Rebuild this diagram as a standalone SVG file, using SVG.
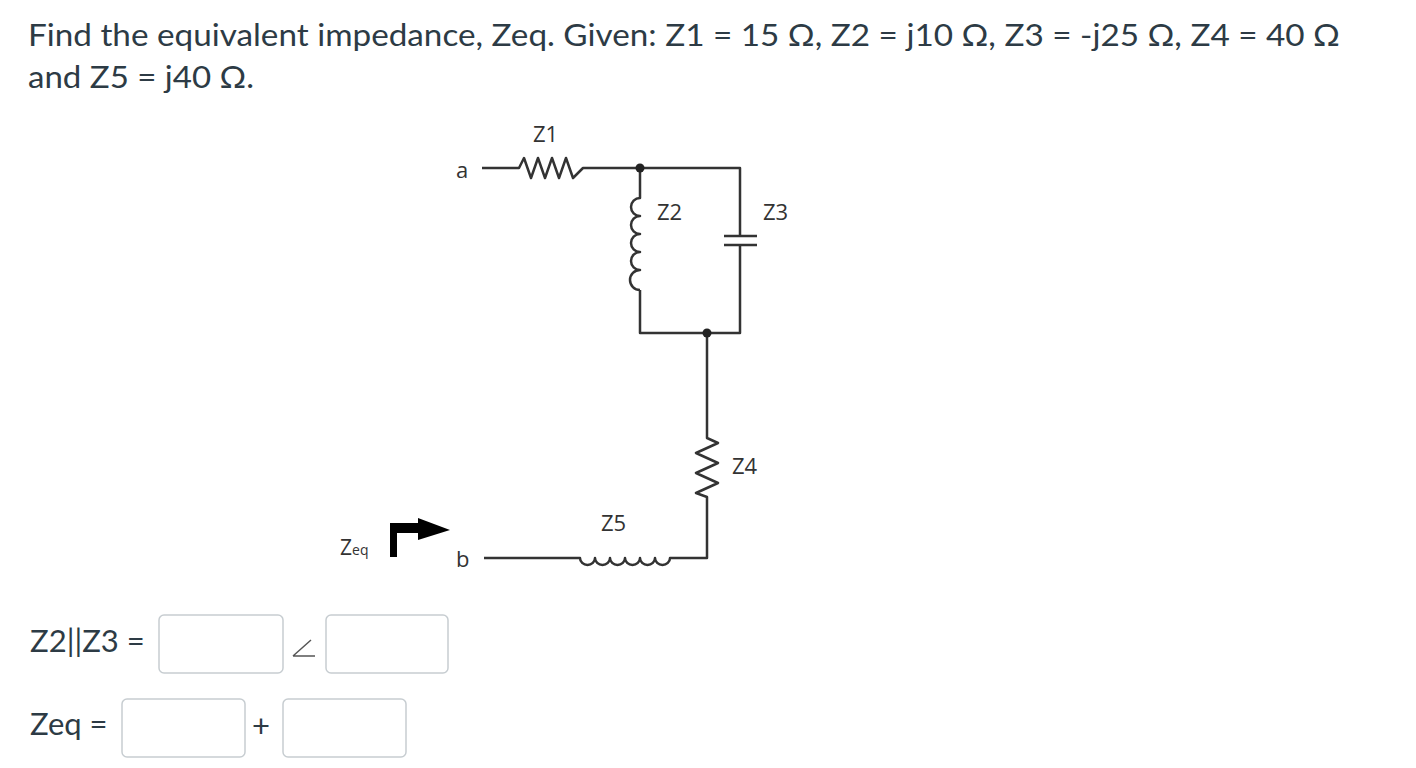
<svg xmlns="http://www.w3.org/2000/svg" width="1416" height="768" viewBox="0 0 1416 768">
<style>
.t{font-family:Lato,"Noto Sans",sans-serif;font-size:31px;fill:#2d3b45}
.l{font-family:"Open Sans","DejaVu Sans",sans-serif;font-size:22px;fill:#333}
.w{fill:none;stroke:#333;stroke-width:2.5;stroke-linejoin:round}
.b{fill:#fff;stroke:#c7cdd1;stroke-width:1.5}
</style>
<rect width="1416" height="768" fill="#fff"/>
<text class="t" x="28" y="46" textLength="1312" lengthAdjust="spacingAndGlyphs">Find the equivalent impedance, Zeq.  Given:  Z1 = 15 Ω, Z2 = j10 Ω, Z3 = -j25 Ω, Z4 = 40 Ω</text>
<text class="t" x="28" y="88" textLength="226" lengthAdjust="spacingAndGlyphs">and Z5 = j40 Ω.</text>
<g id="connectors">
<path class="w" d="M482,168 H519 L524,158 L531,178 L538,158 L545,178 L552,158 L559,178 L566,158 L573,178 L583,168 H740 V236"/>
<path class="w" d="M740,245 V333 H640 V290"/>
<path class="w" d="M640,168 V198 a9,9 0 0 0 0,18 a9,9 0 0 0 0,18 a9,9 0 0 0 0,18 a9,9 0 0 0 0,18 a9,9 0 0 0 0,20"/>
<path class="w" d="M724,236 H757 M724,245 H757"/>
<path class="w" d="M707,333 V438 L718,443 L696,453 L718,463 L696,473 L718,483 L696,493 L707,497 V558 H670 a7.5,7 0 0 1 -15,0 a7.5,7 0 0 1 -15,0 a7.5,7 0 0 1 -15,0 a7.5,7 0 0 1 -15,0 a7.5,7 0 0 1 -15,0 a7.5,7 0 0 1 -15,0 H484"/>
<circle cx="640" cy="168" r="4.5" fill="#222"/>
<circle cx="707" cy="333" r="4.5" fill="#222"/>
<path d="M390,557 V523 H418 V518 L450,530 L418,540 V533 H397 V557 Z" fill="#000"/>
</g>
<g id="labels">
<text class="l" x="533" y="142">Z1</text>
<text class="l" x="456" y="178">a</text>
<text class="l" x="657" y="220">Z2</text>
<text class="l" x="763" y="220">Z3</text>
<text class="l" x="732" y="474">Z4</text>
<text class="l" x="601" y="531">Z5</text>
<text class="l" x="456" y="567">b</text>
<text x="340" y="555" font-family="'Open Sans',sans-serif" font-size="21" fill="#333">Z<tspan font-size="14">eq</tspan></text>
</g>
<g id="form1">
<text class="t" x="30" y="652">Z2||Z3 =</text>
<rect class="b" x="159" y="615" width="124" height="58" rx="5"/>
<path d="M293,656 L311,640 M293,656 H315" stroke="#555" stroke-width="1.5" fill="none"/>
<rect class="b" x="326" y="615" width="122" height="58" rx="5"/>
</g>
<g id="form2">
<text class="t" x="30" y="735">Zeq =</text>
<rect class="b" x="122" y="699" width="123" height="58" rx="5"/>
<text class="t" x="252" y="737">+</text>
<rect class="b" x="283" y="699" width="123" height="58" rx="5"/>
</g>
</svg>
